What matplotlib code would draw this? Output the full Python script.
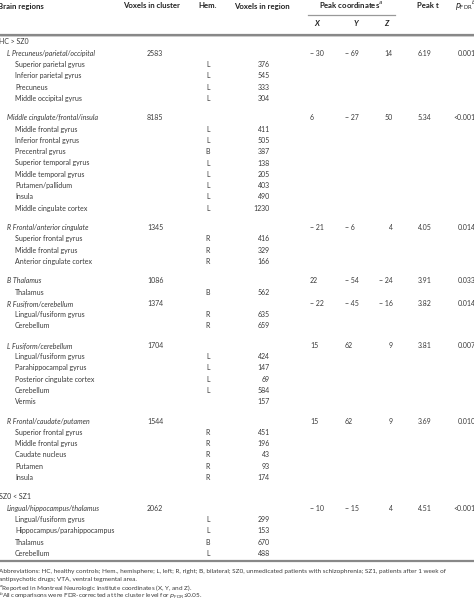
import matplotlib
matplotlib.use("Agg")
import matplotlib.pyplot as plt

plt.rcParams['font.family'] = ['Lato', 'DejaVu Sans']

groups = ["HC > SZ0", "SZ0 < SZ1"]
clusters = [
    # (group index, name, voxels, X, Y, Z, t, p)
    (0, "L Precuneus/parietal/occipital", "2583", "\u2212 30", "\u2212 69", "14", "6.19", "0.001"),
    (0, "Middle cingulate/frontal/insula", "8185", "6", "\u2212 27", "50", "5.34", "<0.001"),
    (0, "R Frontal/anterior cingulate", "1345", "\u2212 21", "\u2212 6", "4", "4.05", "0.014"),
    (0, "B Thalamus", "1086", "22", "\u2212 54", "\u2212 24", "3.91", "0.033"),
    (0, "R Fusifrom/cerebellum", "1374", "\u2212 22", "\u2212 45", "\u2212 16", "3.82", "0.014"),
    (0, "L Fusiform/cerebellum", "1704", "15", "62", "9", "3.81", "0.007"),
    (0, "R Frontal/caudate/putamen", "1544", "15", "62", "9", "3.69", "0.010"),
    (1, "Lingual/hippocampus/thalamus", "2062", "\u2212 10", "\u2212 15", "4", "4.51", "<0.001"),
]
regions = [
    [("Superior parietal gyrus", "L", "376"), ("Inferior parietal gyrus", "L", "545"),
     ("Precuneus", "L", "333"), ("Middle occipital gyrus", "L", "304")],
    [("Middle frontal gyrus", "L", "411"), ("Inferior frontal gyrus", "L", "505"),
     ("Precentral gyrus", "B", "387"), ("Superior temporal gyrus", "L", "138"),
     ("Middle temporal gyrus", "L", "205"), ("Putamen/pallidum", "L", "403"),
     ("Insula", "L", "490"), ("Middle cingulate cortex", "L", "1230")],
    [("Superior frontal gyrus", "R", "416"), ("Middle frontal gyrus", "R", "329"),
     ("Anterior cingulate cortex", "R", "166")],
    [("Thalamus", "B", "562")],
    [("Lingual/fusiform gyrus", "R", "635"), ("Cerebellum", "R", "659")],
    [("Lingual/fusiform gyrus", "L", "424"), ("Parahippocampal gyrus", "L", "147"),
     ("Posterior cingulate cortex", "L", "69"), ("Cerebellum", "L", "584"), ("Vermis", "", "157")],
    [("Superior frontal gyrus", "R", "451"), ("Middle frontal gyrus", "R", "196"),
     ("Caudate nucleus", "R", "43"), ("Putamen", "R", "93"), ("Insula", "R", "174")],
    [("Lingual/fusiform gyrus", "L", "299"), ("Hippocampus/parahippocampus", "L", "153"),
     ("Thalamus", "B", "670"), ("Cerebellum", "L", "488")],
]
gap_before = [False, True, True, True, False, True, True, True]
footnotes = [
    "Abbreviations: HC, healthy controls; Hem., hemisphere; L, left; R, right; B, bilateral; SZ0, unmedicated patients with schizophrenia; SZ1, patients after 1 week of",
    "antipsychotic drugs; VTA, ventral tegmental area.",
    "$^{a}$Reported in Montreal Neurologic Institute coordinates (X, Y, and Z).",
    "$^{b}$All comparisons were FDR-corrected at the cluster level for $p_{\\mathrm{FDR}}$\u22640.05.",
]

fig = plt.figure(figsize=(4.74, 6.05), dpi=100)
ax = fig.add_axes([0, 0, 1, 1])
ax.set_xlim(0, 474)
ax.set_ylim(605, 0)
ax.axis('off')
C = '#3a3a3a'
fs = 5.0
hk = dict(fontsize=5.6, fontweight='bold', color='#222', va='center')

ax.text(-2, 6, "Brain regions", ha='left', **hk)
ax.text(152, 6, "Voxels in cluster", ha='center', **hk)
ax.text(208, 6, "Hem.", ha='center', **hk)
ax.text(262, 6, "Voxels in region", ha='center', **hk)
ax.text(351, 5, "Peak coordinates$^{a}$", ha='center', **hk)
ax.plot([308, 395], [15, 15], color='#999', lw=0.9)
for x, s in [(317, "X"), (356, "Y"), (386, "Z")]:
    ax.text(x, 24, s, ha='center', fontstyle='italic', **hk)
ax.text(428, 6, "Peak t", ha='center', **hk)
ax.text(466, 6, "$p_{\\mathrm{FDR}}$$^{b}$", ha='center', **hk)
ax.plot([0, 474], [34.5, 34.5], color='#888', lw=1.6)
ax.plot([0, 474], [36, 36], color='#bbb', lw=0.5)

s, g = 11.3, 8.0
y = 42
cur_group = -1
first = True
for ci, (gi, name, vox, X, Y, Z, t, p) in enumerate(clusters):
    if gi != cur_group:
        if not first:
            y += s + g
        ax.text(-1, y, groups[gi], ha='left', va='center', fontsize=fs, color=C)
        cur_group = gi
        y += s
    elif gap_before[ci]:
        y += s + g
    else:
        y += s
    first = False
    ax.text(7, y, name, ha='left', va='center', fontsize=fs, color=C, fontstyle='italic')
    ax.text(147, y, vox, ha='left', va='center', fontsize=fs, color=C)
    ax.text(310, y, X, ha='left', va='center', fontsize=fs, color=C)
    ax.text(345, y, Y, ha='left', va='center', fontsize=fs, color=C)
    ax.text(393, y, Z, ha='right', va='center', fontsize=fs, color=C)
    ax.text(418, y, t, ha='left', va='center', fontsize=fs, color=C)
    ax.text(476, y, p, ha='right', va='center', fontsize=fs, color=C)
    for rn, hem, rv in regions[ci]:
        y += s
        ax.text(15, y, rn, ha='left', va='center', fontsize=fs, color=C)
        ax.text(208, y, hem, ha='center', va='center', fontsize=fs, color=C)
        ax.text(270, y, rv, ha='right', va='center', fontsize=fs, color=C)

ax.plot([0, 474], [y + 7.5, y + 7.5], color='#888', lw=1.6)
fy = y + 18
for i, fn in enumerate(footnotes):
    ax.text(-1, fy + i * 8.3, fn, ha='left', va='center', fontsize=4.6, color=C)

fig.savefig("out.png", dpi=100)
